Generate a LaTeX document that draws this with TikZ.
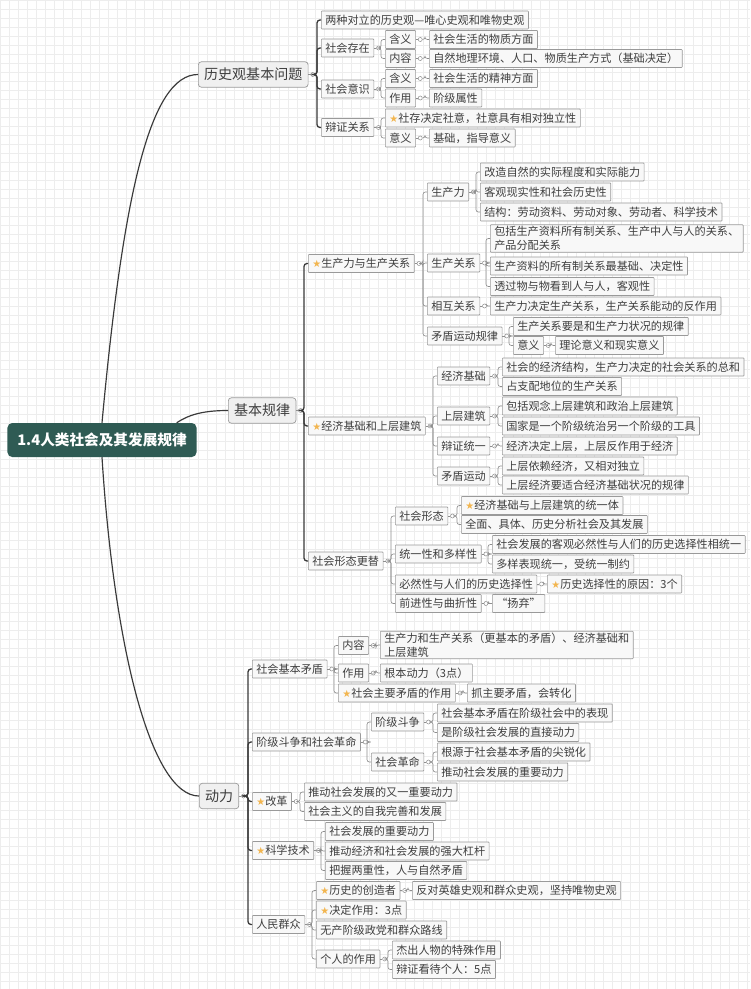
\documentclass[tikz,border=0pt]{standalone}
\usepackage{fontspec}
\setmainfont{Noto Sans CJK SC}
\newfontfamily\symfont{DejaVu Sans}
\usetikzlibrary{calc}
\definecolor{rootteal} {HTML}{2F5B54}
\definecolor{inkgray}  {HTML}{3E3E3E}
\definecolor{rimgray}  {HTML}{9A9A9A}
\definecolor{boxfill}  {HTML}{F8F8F8}
\definecolor{headfill} {HTML}{F0F0F0}
\definecolor{trunkgray}{HTML}{3A3A3A}
\definecolor{twiggray} {HTML}{8E8E8E}
\definecolor{gridgray} {HTML}{EDEDED}
\definecolor{stargold} {HTML}{F2B54E}
\newcommand\starmark{{\symfont\color{stargold}\fontsize{8.5}{8.5}\selectfont ★}}
\newcommand\fanout[3][twig]{%
  \node[knob] (#2-k) at ([xshift=0.13cm]#2.east) {};
  \draw[twig] (#2.east) -- (#2-k.west);
  \foreach \c in {#3} {\draw[#1] (\c.west) -- ++(-4,0) |- (#2-k.east);}%
}

\begin{document}
\begin{tikzpicture}[x=0.03cm, y=-0.03cm,
    rootbox/.style={fill=rootteal, text=white, rounded corners=4pt, minimum width=5.67cm, minimum height=1.02cm, font=\fontsize{12.5}{14}\selectfont\bfseries},
    head/.style={draw=rimgray, fill=headfill, text=inkgray, rounded corners=2.5pt, anchor=west, minimum height=0.76cm, inner xsep=0.17cm, line width=0.6pt, font=\fontsize{12}{14}\selectfont},
    leaf/.style={draw=rimgray, fill=boxfill, text=inkgray, rounded corners=0.6pt, anchor=west, minimum height=0.54cm, inner xsep=0.12cm, inner ysep=1.5pt, line width=0.55pt, align=left, font=\fontsize{9.5}{11.5}\selectfont},
    knob/.style={circle, draw=twiggray, fill=white, inner sep=0pt, minimum size=0.12cm, line width=0.45pt},
    limb/.style={draw=trunkgray, line width=1pt},
    trunk/.style={draw=trunkgray, line width=1.1pt, rounded corners=2.5pt},
    twig/.style={draw=twiggray, line width=0.55pt, rounded corners=2pt}]
  \useasboundingbox (0,0) rectangle (750,989);
  \fill[white] (0,0) rectangle (750,989);
  \draw[gridgray, line width=0.35pt, step=0.27cm] (0,0) grid (750,989);

  % root and main topics
  \node[rootbox] (root) at (102,440) {1.4人类社会及其发展规律};
  \node[head] (hist) at (198,74.5) {历史观基本问题};
  \node[head] (law) at (228,410.5) {基本规律};
  \node[head] (power) at (199,796) {动力};
  \draw[limb] (root.north) .. controls +(21,-228) and +(-48,0) .. (hist.west);
  \draw[limb] (root.13) .. controls +(12,-8) and +(-25,0) .. (law.west);
  \draw[limb] (root.south) .. controls +(12,190) and +(-48,0) .. (power.west);

  % 历史观基本问题
  \node[leaf] (h1) at (321,20) {两种对立的历史观—唯心史观和唯物史观};
  \node[leaf] (h2) at (321,48) {社会存在};
  \node[leaf] (h2a) at (385,39.5) {含义};
  \node[leaf] (h2a1) at (429,39.5) {社会生活的物质方面};
  \node[leaf] (h2b) at (385,58.5) {内容};
  \node[leaf] (h2b1) at (429,58.5) {自然地理环境、人口、物质生产方式（基础决定）};
  \node[leaf] (h3) at (321,89) {社会意识};
  \node[leaf] (h3a) at (385,78.5) {含义};
  \node[leaf] (h3a1) at (429,78.5) {社会生活的精神方面};
  \node[leaf] (h3b) at (385,98) {作用};
  \node[leaf] (h3b1) at (429,98) {阶级属性};
  \node[leaf] (h4) at (321,127.5) {辩证关系};
  \node[leaf] (h4a) at (385,118) {\starmark 社存决定社意，社意具有相对独立性};
  \node[leaf] (h4b) at (385,138) {意义};
  \node[leaf] (h4b1) at (429,138) {基础，指导意义};
  \fanout[trunk]{hist}{h1,h2,h3,h4}
  \fanout{h2}{h2a,h2b}
  \fanout{h2a}{h2a1}
  \fanout{h2b}{h2b1}
  \fanout{h3}{h3a,h3b}
  \fanout{h3a}{h3a1}
  \fanout{h3b}{h3b1}
  \fanout{h4}{h4a,h4b}
  \fanout{h4b}{h4b1}

  % 基本规律
  \node[leaf] (l1) at (308,263.5) {\starmark 生产力与生产关系};
  \node[leaf] (l1a) at (427,192) {生产力};
  \node[leaf] (l1a1) at (480,172) {改造自然的实际程度和实际能力};
  \node[leaf] (l1a2) at (480,192) {客观现实性和社会历史性};
  \node[leaf] (l1a3) at (480,212) {结构：劳动资料、劳动对象、劳动者、科学技术};
  \node[leaf] (l1b) at (427,263) {生产关系};
  \node[leaf] (l1b1) at (490,238.5) {包括生产资料所有制关系、生产中人与人的关系、\\产品分配关系};
  \node[leaf] (l1b2) at (490,266) {生产资料的所有制关系最基础、决定性};
  \node[leaf] (l1b3) at (490,286.5) {透过物与物看到人与人，客观性};
  \node[leaf] (l1c) at (427,306) {相互关系};
  \node[leaf] (l1c1) at (490,306) {生产力决定生产关系，生产关系能动的反作用};
  \node[leaf] (l1d) at (427,336) {矛盾运动规律};
  \node[leaf] (l1d1) at (513,326.5) {生产关系要是和生产力状况的规律};
  \node[leaf] (l1d2) at (513,345.5) {意义};
  \node[leaf] (l1d21) at (555,345.5) {理论意义和现实意义};
  \node[leaf] (l2) at (308,426) {\starmark 经济基础和上层建筑};
  \node[leaf] (l2a) at (437,376) {经济基础};
  \node[leaf] (l2a1) at (502,367) {社会的经济结构，生产力决定的社会关系的总和};
  \node[leaf] (l2a2) at (502,386.5) {占支配地位的生产关系};
  \node[leaf] (l2b) at (437,416) {上层建筑};
  \node[leaf] (l2b1) at (502,406) {包括观念上层建筑和政治上层建筑};
  \node[leaf] (l2b2) at (502,426) {国家是一个阶级统治另一个阶级的工具};
  \node[leaf] (l2c) at (437,446) {辩证统一};
  \node[leaf] (l2c1) at (502,446) {经济决定上层，上层反作用于经济};
  \node[leaf] (l2d) at (437,476) {矛盾运动};
  \node[leaf] (l2d1) at (502,466) {上层依赖经济，又相对独立};
  \node[leaf] (l2d2) at (502,485) {上层经济要适合经济基础状况的规律};
  \node[leaf] (l3) at (308,561) {社会形态更替};
  \node[leaf] (l3a) at (395,516) {社会形态};
  \node[leaf] (l3a1) at (461,505.5) {\starmark 经济基础与上层建筑的统一体};
  \node[leaf] (l3a2) at (461,524.5) {全面、具体、历史分析社会及其发展};
  \node[leaf] (l3b) at (395,554) {统一性和多样性};
  \node[leaf] (l3b1) at (492,544.5) {社会发展的客观必然性与人们的历史选择性相统一};
  \node[leaf] (l3b2) at (492,564) {多样表现统一，受统一制约};
  \node[leaf] (l3c) at (395,584) {必然性与人们的历史选择性};
  \node[leaf] (l3c1) at (547,584) {\starmark 历史选择性的原因：3个};
  \node[leaf] (l3d) at (395,603.5) {前进性与曲折性};
  \node[leaf] (l3d1) at (492,603.5) {“扬弃”};
  \fanout[trunk]{law}{l1,l2,l3}
  \fanout{l1}{l1a,l1b,l1c,l1d}
  \fanout{l1a}{l1a1,l1a2,l1a3}
  \fanout{l1b}{l1b1,l1b2,l1b3}
  \fanout{l1c}{l1c1}
  \fanout{l1d}{l1d1,l1d2}
  \fanout{l1d2}{l1d21}
  \fanout{l2}{l2a,l2b,l2c,l2d}
  \fanout{l2a}{l2a1,l2a2}
  \fanout{l2b}{l2b1,l2b2}
  \fanout{l2c}{l2c1}
  \fanout{l2d}{l2d1,l2d2}
  \fanout{l3}{l3a,l3b,l3c,l3d}
  \fanout{l3a}{l3a1,l3a2}
  \fanout{l3b}{l3b1,l3b2}
  \fanout{l3c}{l3c1}
  \fanout{l3d}{l3d1}

  % 动力
  \node[leaf] (p1) at (252,669) {社会基本矛盾};
  \node[leaf] (p1a) at (338,645.5) {内容};
  \node[leaf] (p1a1) at (380,645) {生产力和生产关系（更基本的矛盾）、经济基础和\\上层建筑};
  \node[leaf] (p1b) at (338,673) {作用};
  \node[leaf] (p1b1) at (380,673) {根本动力（3点）};
  \node[leaf] (p1c) at (338,693) {\starmark 社会主要矛盾的作用};
  \node[leaf] (p1c1) at (467,693) {抓主要矛盾，会转化};
  \node[leaf] (p2) at (252,742) {阶级斗争和社会革命};
  \node[leaf] (p2a) at (371,722) {阶级斗争};
  \node[leaf] (p2a1) at (437,713) {社会基本矛盾在阶级社会中的表现};
  \node[leaf] (p2a2) at (437,732.5) {是阶级社会发展的直接动力};
  \node[leaf] (p2b) at (371,762) {社会革命};
  \node[leaf] (p2b1) at (437,752) {根源于社会基本矛盾的尖锐化};
  \node[leaf] (p2b2) at (437,772) {推动社会发展的重要动力};
  \node[leaf] (p3) at (252,801.5) {\starmark 改革};
  \node[leaf] (p3a) at (304,792) {推动社会发展的又一重要动力};
  \node[leaf] (p3b) at (304,811.5) {社会主义的自我完善和发展};
  \node[leaf] (p4) at (252,850.5) {\starmark 科学技术};
  \node[leaf] (p4a) at (325,831.5) {社会发展的重要动力};
  \node[leaf] (p4b) at (325,851) {推动经济和社会发展的强大杠杆};
  \node[leaf] (p4c) at (325,870.5) {把握两重性，人与自然矛盾};
  \node[leaf] (p5) at (252,924.5) {人民群众};
  \node[leaf] (p5a) at (316,890.5) {\starmark 历史的创造者};
  \node[leaf] (p5a1) at (412,890.5) {反对英雄史观和群众史观，坚持唯物史观};
  \node[leaf] (p5b) at (316,910) {\starmark 决定作用：3点};
  \node[leaf] (p5c) at (316,930) {无产阶级政党和群众路线};
  \node[leaf] (p5d) at (316,959) {个人的作用};
  \node[leaf] (p5d1) at (392,950) {杰出人物的特殊作用};
  \node[leaf] (p5d2) at (392,969.5) {辩证看待个人：5点};
  \fanout[trunk]{power}{p1,p2,p3,p4,p5}
  \fanout{p1}{p1a,p1b,p1c}
  \fanout{p1a}{p1a1}
  \fanout{p1b}{p1b1}
  \fanout{p1c}{p1c1}
  \fanout{p2}{p2a,p2b}
  \fanout{p2a}{p2a1,p2a2}
  \fanout{p2b}{p2b1,p2b2}
  \fanout{p3}{p3a,p3b}
  \fanout{p4}{p4a,p4b,p4c}
  \fanout{p5}{p5a,p5b,p5c,p5d}
  \fanout{p5a}{p5a1}
  \fanout{p5d}{p5d1,p5d2}
\end{tikzpicture}
\end{document}
